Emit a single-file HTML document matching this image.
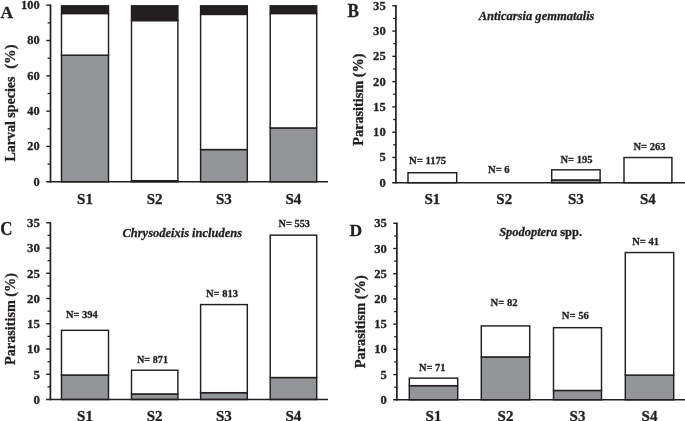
<!DOCTYPE html>
<html><head><meta charset="utf-8"><title>Figure</title>
<style>html,body{margin:0;padding:0;background:#fff;}svg{display:block}text{font-family:"Liberation Serif","Times New Roman",serif;font-weight:bold;fill:#231f20;stroke:#231f20;stroke-width:0.3px}</style></head><body>
<svg width="685" height="421" viewBox="0 0 685 421">
<rect x="0" y="0" width="685" height="421" fill="#fff"/>
<rect x="61.50" y="55.18" width="47.00" height="126.62" fill="#939598" stroke="#231f20" stroke-width="1.45"/>
<rect x="61.50" y="13.50" width="47.00" height="41.68" fill="#fff" stroke="#231f20" stroke-width="1.45"/>
<rect x="61.50" y="5.82" width="47.00" height="7.68" fill="#231f20" stroke="#231f20" stroke-width="1.45"/>
<rect x="131.50" y="180.74" width="46.40" height="1.06" fill="#939598" stroke="#231f20" stroke-width="1.45"/>
<rect x="131.50" y="20.56" width="46.40" height="160.18" fill="#fff" stroke="#231f20" stroke-width="1.45"/>
<rect x="131.50" y="5.82" width="46.40" height="14.75" fill="#231f20" stroke="#231f20" stroke-width="1.45"/>
<rect x="200.60" y="149.57" width="46.70" height="32.23" fill="#939598" stroke="#231f20" stroke-width="1.45"/>
<rect x="200.60" y="14.38" width="46.70" height="135.19" fill="#fff" stroke="#231f20" stroke-width="1.45"/>
<rect x="200.60" y="5.82" width="46.70" height="8.57" fill="#231f20" stroke="#231f20" stroke-width="1.45"/>
<rect x="270.20" y="127.94" width="46.50" height="53.86" fill="#939598" stroke="#231f20" stroke-width="1.45"/>
<rect x="270.20" y="13.50" width="46.50" height="114.44" fill="#fff" stroke="#231f20" stroke-width="1.45"/>
<rect x="270.20" y="5.82" width="46.50" height="7.68" fill="#231f20" stroke="#231f20" stroke-width="1.45"/>
<line x1="50.50" y1="4.50" x2="50.50" y2="182.60" stroke="#231f20" stroke-width="1.7"/>
<line x1="46.20" y1="181.80" x2="328.00" y2="181.80" stroke="#231f20" stroke-width="1.6"/>
<text x="39.70" y="185.70" font-size="12.4" text-anchor="end"  style="">0</text>
<line x1="46.30" y1="146.48" x2="50.50" y2="146.48" stroke="#231f20" stroke-width="1.4"/>
<text x="39.70" y="150.38" font-size="12.4" text-anchor="end"  style="">20</text>
<line x1="46.30" y1="111.16" x2="50.50" y2="111.16" stroke="#231f20" stroke-width="1.4"/>
<text x="39.70" y="115.06" font-size="12.4" text-anchor="end"  style="">40</text>
<line x1="46.30" y1="75.84" x2="50.50" y2="75.84" stroke="#231f20" stroke-width="1.4"/>
<text x="39.70" y="79.74" font-size="12.4" text-anchor="end"  style="">60</text>
<line x1="46.30" y1="40.52" x2="50.50" y2="40.52" stroke="#231f20" stroke-width="1.4"/>
<text x="39.70" y="44.42" font-size="12.4" text-anchor="end"  style="">80</text>
<line x1="46.30" y1="5.20" x2="50.50" y2="5.20" stroke="#231f20" stroke-width="1.4"/>
<text x="39.70" y="9.10" font-size="12.4" text-anchor="end"  style="">100</text>
<line x1="47.60" y1="164.14" x2="50.50" y2="164.14" stroke="#231f20" stroke-width="1.3"/>
<line x1="47.60" y1="128.82" x2="50.50" y2="128.82" stroke="#231f20" stroke-width="1.3"/>
<line x1="47.60" y1="93.50" x2="50.50" y2="93.50" stroke="#231f20" stroke-width="1.3"/>
<line x1="47.60" y1="58.18" x2="50.50" y2="58.18" stroke="#231f20" stroke-width="1.3"/>
<line x1="47.60" y1="22.86" x2="50.50" y2="22.86" stroke="#231f20" stroke-width="1.3"/>
<text x="85.00" y="203.50" font-size="15" text-anchor="middle"  style="">S1</text>
<text x="154.70" y="203.50" font-size="15" text-anchor="middle"  style="">S2</text>
<text x="223.95" y="203.50" font-size="15" text-anchor="middle"  style="">S3</text>
<text x="293.45" y="203.50" font-size="15" text-anchor="middle"  style="">S4</text>
<text x="0.40" y="17.60" font-size="17.5" text-anchor="start"  style="">A</text>
<text transform="translate(15.20,161.50) rotate(-90)" font-size="14.5" textLength="85.0" lengthAdjust="spacingAndGlyphs" xml:space="preserve">Larval species</text>
<text transform="translate(15.20,68.80) rotate(-90)" font-size="14.5" textLength="24.3" lengthAdjust="spacingAndGlyphs" xml:space="preserve">(%)</text>
<rect x="408.00" y="172.74" width="48.70" height="9.96" fill="#fff" stroke="#231f20" stroke-width="1.45"/>
<rect x="551.70" y="179.92" width="48.40" height="2.78" fill="#939598" stroke="#231f20" stroke-width="1.45"/>
<rect x="551.70" y="169.81" width="48.40" height="10.11" fill="#fff" stroke="#231f20" stroke-width="1.45"/>
<rect x="624.00" y="157.53" width="47.90" height="25.17" fill="#fff" stroke="#231f20" stroke-width="1.45"/>
<line x1="395.90" y1="5.10" x2="395.90" y2="183.50" stroke="#231f20" stroke-width="1.7"/>
<line x1="392.20" y1="182.70" x2="685.00" y2="182.70" stroke="#231f20" stroke-width="1.6"/>
<text x="385.70" y="186.70" font-size="12.6" text-anchor="end"  style="">0</text>
<line x1="392.30" y1="157.43" x2="395.90" y2="157.43" stroke="#231f20" stroke-width="1.4"/>
<text x="385.70" y="161.43" font-size="12.6" text-anchor="end"  style="">5</text>
<line x1="392.30" y1="132.16" x2="395.90" y2="132.16" stroke="#231f20" stroke-width="1.4"/>
<text x="385.70" y="136.16" font-size="12.6" text-anchor="end"  style="">10</text>
<line x1="392.30" y1="106.89" x2="395.90" y2="106.89" stroke="#231f20" stroke-width="1.4"/>
<text x="385.70" y="110.89" font-size="12.6" text-anchor="end"  style="">15</text>
<line x1="392.30" y1="81.61" x2="395.90" y2="81.61" stroke="#231f20" stroke-width="1.4"/>
<text x="385.70" y="85.61" font-size="12.6" text-anchor="end"  style="">20</text>
<line x1="392.30" y1="56.34" x2="395.90" y2="56.34" stroke="#231f20" stroke-width="1.4"/>
<text x="385.70" y="60.34" font-size="12.6" text-anchor="end"  style="">25</text>
<line x1="392.30" y1="31.07" x2="395.90" y2="31.07" stroke="#231f20" stroke-width="1.4"/>
<text x="385.70" y="35.07" font-size="12.6" text-anchor="end"  style="">30</text>
<line x1="392.30" y1="5.80" x2="395.90" y2="5.80" stroke="#231f20" stroke-width="1.4"/>
<text x="385.70" y="9.80" font-size="12.6" text-anchor="end"  style="">35</text>
<line x1="393.20" y1="170.06" x2="395.90" y2="170.06" stroke="#231f20" stroke-width="1.3"/>
<line x1="393.20" y1="144.79" x2="395.90" y2="144.79" stroke="#231f20" stroke-width="1.3"/>
<line x1="393.20" y1="119.52" x2="395.90" y2="119.52" stroke="#231f20" stroke-width="1.3"/>
<line x1="393.20" y1="94.25" x2="395.90" y2="94.25" stroke="#231f20" stroke-width="1.3"/>
<line x1="393.20" y1="68.98" x2="395.90" y2="68.98" stroke="#231f20" stroke-width="1.3"/>
<line x1="393.20" y1="43.71" x2="395.90" y2="43.71" stroke="#231f20" stroke-width="1.3"/>
<line x1="393.20" y1="18.44" x2="395.90" y2="18.44" stroke="#231f20" stroke-width="1.3"/>
<text x="432.35" y="203.50" font-size="15" text-anchor="middle"  style="">S1</text>
<text x="504.25" y="203.50" font-size="15" text-anchor="middle"  style="">S2</text>
<text x="575.90" y="203.50" font-size="15" text-anchor="middle"  style="">S3</text>
<text x="647.95" y="203.50" font-size="15" text-anchor="middle"  style="">S4</text>
<text x="347.50" y="16.70" font-size="18.2" text-anchor="start" textLength="11.5" lengthAdjust="spacingAndGlyphs"  style="">B</text>
<text transform="translate(363.30,99.60) rotate(-90)" font-size="14.5" text-anchor="middle" textLength="92.4" lengthAdjust="spacingAndGlyphs" xml:space="preserve">Parasitism (%)</text>
<rect x="61.50" y="375.01" width="47.00" height="24.49" fill="#939598" stroke="#231f20" stroke-width="1.45"/>
<rect x="61.50" y="330.33" width="47.00" height="44.68" fill="#fff" stroke="#231f20" stroke-width="1.45"/>
<rect x="131.50" y="393.95" width="46.40" height="5.55" fill="#939598" stroke="#231f20" stroke-width="1.45"/>
<rect x="131.50" y="370.22" width="46.40" height="23.73" fill="#fff" stroke="#231f20" stroke-width="1.45"/>
<rect x="200.60" y="392.68" width="46.70" height="6.82" fill="#939598" stroke="#231f20" stroke-width="1.45"/>
<rect x="200.60" y="304.59" width="46.70" height="88.10" fill="#fff" stroke="#231f20" stroke-width="1.45"/>
<rect x="270.20" y="377.54" width="46.50" height="21.96" fill="#939598" stroke="#231f20" stroke-width="1.45"/>
<rect x="270.20" y="235.17" width="46.50" height="142.37" fill="#fff" stroke="#231f20" stroke-width="1.45"/>
<line x1="50.40" y1="222.10" x2="50.40" y2="400.30" stroke="#231f20" stroke-width="1.7"/>
<line x1="46.10" y1="399.50" x2="328.00" y2="399.50" stroke="#231f20" stroke-width="1.6"/>
<text x="40.00" y="403.90" font-size="12.9" text-anchor="end"  style="">0</text>
<line x1="46.20" y1="374.26" x2="50.40" y2="374.26" stroke="#231f20" stroke-width="1.4"/>
<text x="40.00" y="378.66" font-size="12.9" text-anchor="end"  style="">5</text>
<line x1="46.20" y1="349.01" x2="50.40" y2="349.01" stroke="#231f20" stroke-width="1.4"/>
<text x="40.00" y="353.41" font-size="12.9" text-anchor="end"  style="">10</text>
<line x1="46.20" y1="323.77" x2="50.40" y2="323.77" stroke="#231f20" stroke-width="1.4"/>
<text x="40.00" y="328.17" font-size="12.9" text-anchor="end"  style="">15</text>
<line x1="46.20" y1="298.53" x2="50.40" y2="298.53" stroke="#231f20" stroke-width="1.4"/>
<text x="40.00" y="302.93" font-size="12.9" text-anchor="end"  style="">20</text>
<line x1="46.20" y1="273.29" x2="50.40" y2="273.29" stroke="#231f20" stroke-width="1.4"/>
<text x="40.00" y="277.69" font-size="12.9" text-anchor="end"  style="">25</text>
<line x1="46.20" y1="248.04" x2="50.40" y2="248.04" stroke="#231f20" stroke-width="1.4"/>
<text x="40.00" y="252.44" font-size="12.9" text-anchor="end"  style="">30</text>
<line x1="46.20" y1="222.80" x2="50.40" y2="222.80" stroke="#231f20" stroke-width="1.4"/>
<text x="40.00" y="227.20" font-size="12.9" text-anchor="end"  style="">35</text>
<line x1="47.50" y1="386.88" x2="50.40" y2="386.88" stroke="#231f20" stroke-width="1.3"/>
<line x1="47.50" y1="361.64" x2="50.40" y2="361.64" stroke="#231f20" stroke-width="1.3"/>
<line x1="47.50" y1="336.39" x2="50.40" y2="336.39" stroke="#231f20" stroke-width="1.3"/>
<line x1="47.50" y1="311.15" x2="50.40" y2="311.15" stroke="#231f20" stroke-width="1.3"/>
<line x1="47.50" y1="285.91" x2="50.40" y2="285.91" stroke="#231f20" stroke-width="1.3"/>
<line x1="47.50" y1="260.66" x2="50.40" y2="260.66" stroke="#231f20" stroke-width="1.3"/>
<line x1="47.50" y1="235.42" x2="50.40" y2="235.42" stroke="#231f20" stroke-width="1.3"/>
<text x="85.00" y="420.70" font-size="15" text-anchor="middle"  style="">S1</text>
<text x="154.70" y="420.70" font-size="15" text-anchor="middle"  style="">S2</text>
<text x="223.95" y="420.70" font-size="15" text-anchor="middle"  style="">S3</text>
<text x="293.45" y="420.70" font-size="15" text-anchor="middle"  style="">S4</text>
<text x="0.20" y="235.40" font-size="18.5" text-anchor="start" textLength="12.2" lengthAdjust="spacingAndGlyphs"  style="">C</text>
<text transform="translate(15.40,319.00) rotate(-90)" font-size="14.5" text-anchor="middle" textLength="91.8" lengthAdjust="spacingAndGlyphs" xml:space="preserve">Parasitism (%)</text>
<rect x="409.30" y="385.68" width="48.40" height="14.12" fill="#939598" stroke="#231f20" stroke-width="1.45"/>
<rect x="409.30" y="378.12" width="48.40" height="7.56" fill="#fff" stroke="#231f20" stroke-width="1.45"/>
<rect x="481.30" y="356.94" width="48.40" height="42.86" fill="#939598" stroke="#231f20" stroke-width="1.45"/>
<rect x="481.30" y="325.92" width="48.40" height="31.01" fill="#fff" stroke="#231f20" stroke-width="1.45"/>
<rect x="553.50" y="390.47" width="48.00" height="9.33" fill="#939598" stroke="#231f20" stroke-width="1.45"/>
<rect x="553.50" y="327.69" width="48.00" height="62.78" fill="#fff" stroke="#231f20" stroke-width="1.45"/>
<rect x="625.30" y="375.09" width="48.40" height="24.71" fill="#939598" stroke="#231f20" stroke-width="1.45"/>
<rect x="625.30" y="252.55" width="48.40" height="122.54" fill="#fff" stroke="#231f20" stroke-width="1.45"/>
<line x1="396.90" y1="222.60" x2="396.90" y2="400.60" stroke="#231f20" stroke-width="1.7"/>
<line x1="393.20" y1="399.80" x2="685.00" y2="399.80" stroke="#231f20" stroke-width="1.6"/>
<text x="386.80" y="403.80" font-size="12.6" text-anchor="end"  style="">0</text>
<line x1="393.30" y1="374.59" x2="396.90" y2="374.59" stroke="#231f20" stroke-width="1.4"/>
<text x="386.80" y="378.59" font-size="12.6" text-anchor="end"  style="">5</text>
<line x1="393.30" y1="349.37" x2="396.90" y2="349.37" stroke="#231f20" stroke-width="1.4"/>
<text x="386.80" y="353.37" font-size="12.6" text-anchor="end"  style="">10</text>
<line x1="393.30" y1="324.16" x2="396.90" y2="324.16" stroke="#231f20" stroke-width="1.4"/>
<text x="386.80" y="328.16" font-size="12.6" text-anchor="end"  style="">15</text>
<line x1="393.30" y1="298.94" x2="396.90" y2="298.94" stroke="#231f20" stroke-width="1.4"/>
<text x="386.80" y="302.94" font-size="12.6" text-anchor="end"  style="">20</text>
<line x1="393.30" y1="273.73" x2="396.90" y2="273.73" stroke="#231f20" stroke-width="1.4"/>
<text x="386.80" y="277.73" font-size="12.6" text-anchor="end"  style="">25</text>
<line x1="393.30" y1="248.51" x2="396.90" y2="248.51" stroke="#231f20" stroke-width="1.4"/>
<text x="386.80" y="252.51" font-size="12.6" text-anchor="end"  style="">30</text>
<line x1="393.30" y1="223.30" x2="396.90" y2="223.30" stroke="#231f20" stroke-width="1.4"/>
<text x="386.80" y="227.30" font-size="12.6" text-anchor="end"  style="">35</text>
<line x1="394.20" y1="387.19" x2="396.90" y2="387.19" stroke="#231f20" stroke-width="1.3"/>
<line x1="394.20" y1="361.98" x2="396.90" y2="361.98" stroke="#231f20" stroke-width="1.3"/>
<line x1="394.20" y1="336.76" x2="396.90" y2="336.76" stroke="#231f20" stroke-width="1.3"/>
<line x1="394.20" y1="311.55" x2="396.90" y2="311.55" stroke="#231f20" stroke-width="1.3"/>
<line x1="394.20" y1="286.34" x2="396.90" y2="286.34" stroke="#231f20" stroke-width="1.3"/>
<line x1="394.20" y1="261.12" x2="396.90" y2="261.12" stroke="#231f20" stroke-width="1.3"/>
<line x1="394.20" y1="235.91" x2="396.90" y2="235.91" stroke="#231f20" stroke-width="1.3"/>
<text x="433.50" y="420.70" font-size="15" text-anchor="middle"  style="">S1</text>
<text x="505.50" y="420.70" font-size="15" text-anchor="middle"  style="">S2</text>
<text x="577.50" y="420.70" font-size="15" text-anchor="middle"  style="">S3</text>
<text x="649.50" y="420.70" font-size="15" text-anchor="middle"  style="">S4</text>
<text x="349.40" y="236.00" font-size="17.5" text-anchor="start"  style="">D</text>
<text transform="translate(365.40,321.80) rotate(-90)" font-size="14.5" text-anchor="middle" textLength="93" lengthAdjust="spacingAndGlyphs" xml:space="preserve">Parasitism (%)</text>
<text x="409.00" y="163.80" font-size="10.7" text-anchor="start" textLength="37.2" lengthAdjust="spacingAndGlyphs" xml:space="preserve" style="">N= 1175</text>
<text x="488.00" y="173.40" font-size="10.7" text-anchor="start" textLength="21.6" lengthAdjust="spacingAndGlyphs" xml:space="preserve" style="">N= 6</text>
<text x="560.50" y="163.00" font-size="10.7" text-anchor="start" textLength="32.0" lengthAdjust="spacingAndGlyphs" xml:space="preserve" style="">N= 195</text>
<text x="633.50" y="150.00" font-size="10.7" text-anchor="start" textLength="32.0" lengthAdjust="spacingAndGlyphs" xml:space="preserve" style="">N= 263</text>
<text x="66.00" y="318.00" font-size="10.7" text-anchor="start" textLength="31.7" lengthAdjust="spacingAndGlyphs" xml:space="preserve" style="">N= 394</text>
<text x="137.00" y="363.00" font-size="10.7" text-anchor="start" textLength="31.0" lengthAdjust="spacingAndGlyphs" xml:space="preserve" style="">N= 871</text>
<text x="206.00" y="296.70" font-size="10.7" text-anchor="start" textLength="32.0" lengthAdjust="spacingAndGlyphs" xml:space="preserve" style="">N= 813</text>
<text x="278.50" y="227.00" font-size="10.7" text-anchor="start" textLength="31.5" lengthAdjust="spacingAndGlyphs" xml:space="preserve" style="">N= 553</text>
<text x="419.00" y="370.50" font-size="10.7" text-anchor="start" textLength="26.5" lengthAdjust="spacingAndGlyphs" xml:space="preserve" style="">N= 71</text>
<text x="490.50" y="306.00" font-size="10.7" text-anchor="start" textLength="27.0" lengthAdjust="spacingAndGlyphs" xml:space="preserve" style="">N= 82</text>
<text x="561.70" y="318.50" font-size="10.7" text-anchor="start" textLength="27.3" lengthAdjust="spacingAndGlyphs" xml:space="preserve" style="">N= 56</text>
<text x="632.20" y="244.60" font-size="10.7" text-anchor="start" textLength="26.8" lengthAdjust="spacingAndGlyphs" xml:space="preserve" style="">N= 41</text>
<text x="478.7" y="20" font-size="12.6" font-style="italic" textLength="115.8" lengthAdjust="spacingAndGlyphs">Anticarsia gemmatalis</text>
<text x="122.5" y="236.7" font-size="12.6" font-style="italic" textLength="119.5" lengthAdjust="spacingAndGlyphs">Chrysodeixis includens</text>
<text x="499.2" y="235.7" font-size="12.6" textLength="82.8" lengthAdjust="spacingAndGlyphs"><tspan font-style="italic">Spodoptera</tspan> spp.</text>
</svg></body></html>
